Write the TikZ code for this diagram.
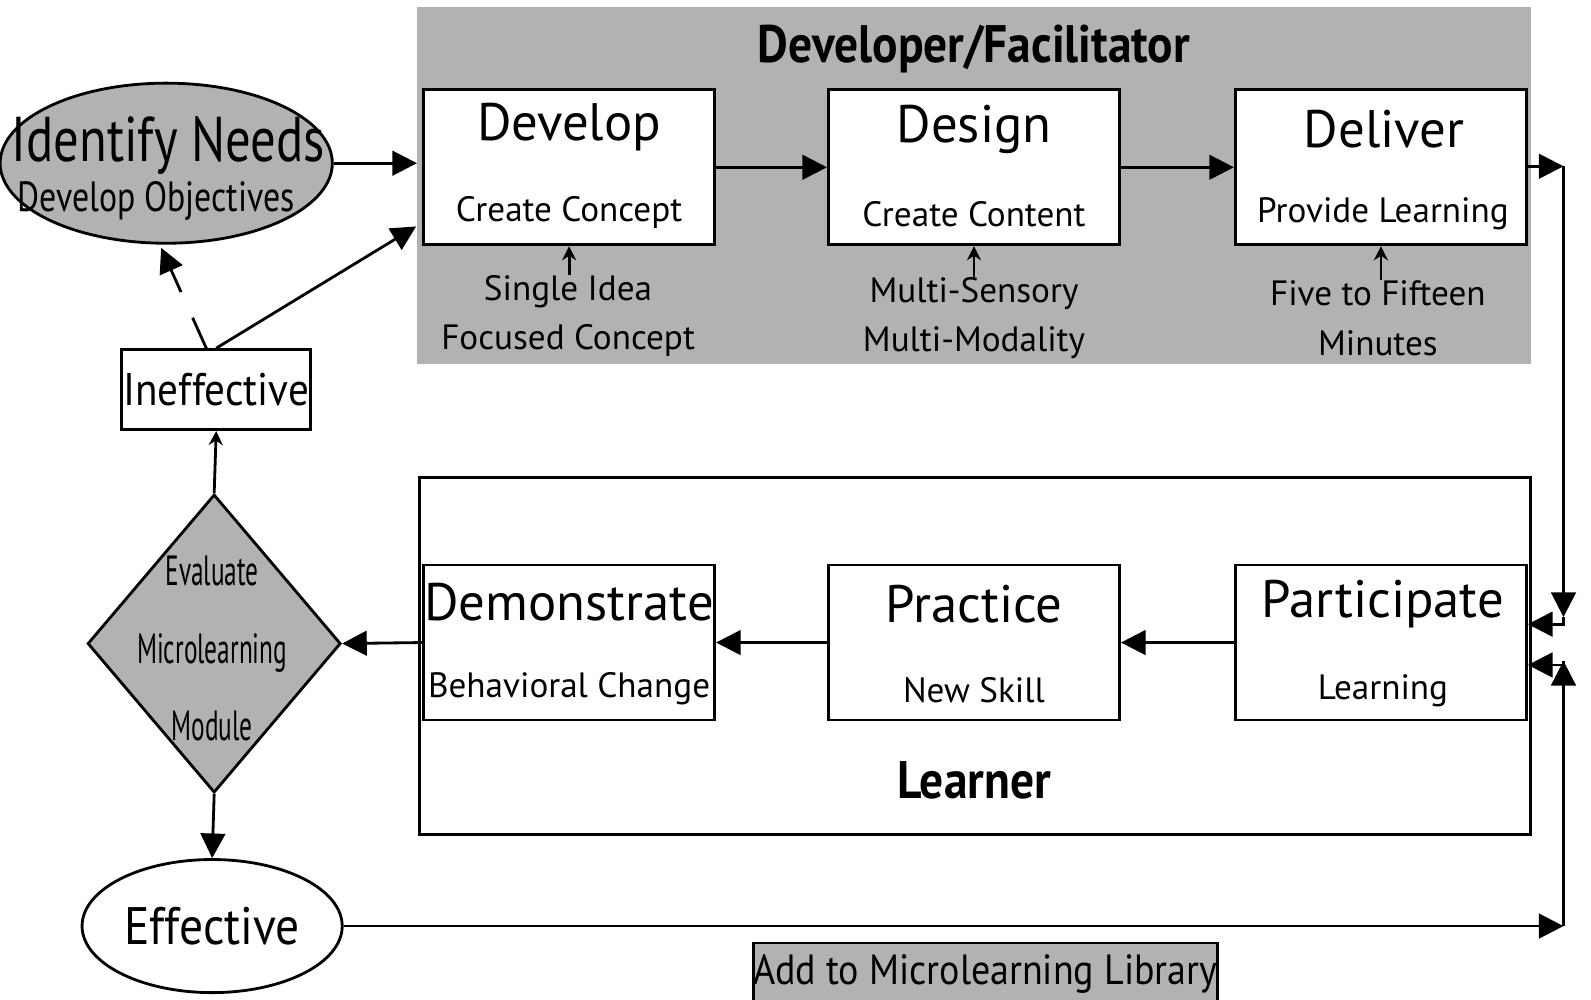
\documentclass[tikz,border=0pt]{standalone}
\usepackage{fontspec}
\setmainfont{PT Sans}
\usetikzlibrary{arrows.meta,shapes.geometric}
\begin{document}
\begin{tikzpicture}[x=0.0102cm,y=-0.0102cm,
  >={Triangle[length=7pt,width=7pt]},
  every node/.style={inner sep=0pt},
  stepbox/.style={draw,thick,fill=white,minimum width=2.91cm,minimum height=1.55cm},
  ttl/.style={font=\fontsize{15}{17}\selectfont},
  sub/.style={font=\fontsize{10}{12}\selectfont},
  note/.style={font=\fontsize{10}{14}\selectfont,align=center},
  arr/.style={->,thick},
  small/.style={-{Stealth[length=4pt,width=4pt]},thick}
]
\useasboundingbox (0,0) rectangle (1560,980);
% panels
\node[draw=gray!60,fill=gray!60,minimum width=11.12cm,minimum height=3.56cm] (dev) at (955,182) {};
\node[font=\bfseries\fontsize{15}{17}\selectfont] (devt) at (955,48) {\scalebox{0.9}[1]{Developer/Facilitator}};
\node[draw,thick,fill=white,minimum width=11.1cm,minimum height=3.57cm] (learn) at (956,643) {};
\node[font=\bfseries\fontsize{15}{17}\selectfont] (learnt) at (955,765) {\scalebox{0.9}[1]{Learner}};
% top steps
\node[stepbox] (s1) at (558,164) {};
\node[stepbox] (s2) at (955,164) {};
\node[stepbox] (s3) at (1354,164) {};
\node[ttl] at (558,125) {Develop};
\node[sub] at (558,208) {Create Concept};
\node[ttl] at (955,127) {Design};
\node[sub] at (955,210) {Create Content};
\node[ttl] at (1357,127) {Deliver};
\node[sub] at (1356,210) {Provide Learning};
\node[note] (n1) at (557,310) {Single Idea\\Focused Concept};
\node[note] (n2) at (955,312) {Multi-Sensory\\Multi-Modality};
\node[note] (n3) at (1351,312) {Five to Fifteen\\Minutes};
\draw[small] (n1.north -| s1) -- (s1.south);
\draw[small] (n2.north -| s2) -- (s2.south);
\draw[small] (n3.north -| s3) -- (s3.south);
% bottom steps
\node[stepbox] (b1) at (558,630) {};
\node[stepbox] (b2) at (955,630) {};
\node[stepbox] (b3) at (1354,630) {};
\node[ttl] at (558,590) {Demonstrate};
\node[sub] at (558,675) {Behavioral Change};
\node[ttl] at (955,592) {Practice};
\node[sub] at (955,677) {New Skill};
\node[ttl] at (1356,592) {Participate};
\node[sub] at (1356,677) {Learning};
% left side
\node[ellipse,draw,thick,fill=gray!60,minimum width=3.32cm,minimum height=1.6cm] (id) at (163,160) {};
\node[font=\fontsize{18}{20}\selectfont] at (165,143) {\scalebox{0.8}[1]{Identify Needs}};
\node[font=\fontsize{12}{14}\selectfont] at (153,197) {\scalebox{0.8}[1]{Develop Objectives}};
\node[draw,thick,fill=white,minimum width=1.89cm,minimum height=0.8cm,font=\fontsize{13}{15}\selectfont] (ineff) at (212,382) {\scalebox{0.9}[1]{Ineffective}};
\node[diamond,draw,thick,fill=gray!60,minimum width=2.53cm,minimum height=2.98cm,aspect=0.85] (eval) at (210,631) {};
\node[align=center,font=\fontsize{12}{22}\selectfont] at (208,636) {\scalebox{0.6}[1]{Evaluate}\\\scalebox{0.6}[1]{Microlearning}\\\scalebox{0.6}[1]{Module}};
\node[ellipse,draw,thick,fill=white,minimum width=2.6cm,minimum height=1.33cm,font=\fontsize{15}{17}\selectfont] (eff) at (208,908) {\scalebox{0.9}[1]{Effective}};
\node[draw,thick,fill=gray!60,minimum width=4.54cm,minimum height=0.62cm,font=\fontsize{12}{14}\selectfont] (lib) at (966,955) {\scalebox{0.9}[1]{Add to Microlearning Library}};
% connectors
\coordinate (r1) at (1533,163);
\coordinate (r2) at (1533,605);
\coordinate (r3) at (1533,648);
\coordinate (r4) at (1533,908);
\draw[arr] (id.east) -- (dev.west |- id.east);
\draw[arr] (s1.east) -- (s2.west);
\draw[arr] (s2.east) -- (s3.west);
\draw[arr] (s3.east |- r1) -- (r1);
\draw[arr] (r1) -- (r2);
\draw[arr] (r2) -- ++(0,7) -- (b3.east |- 0,612);
\draw[arr] (r4) -- (r3);
\draw[arr] (r3) -- ++(0,4) -- (b3.east |- 0,652);
\draw[arr] (eff.east) -- (r4);
\draw[arr] (b3.west) -- (b2.east);
\draw[arr] (b2.west) -- (b1.east);
\draw[arr] (b1.west) -- (eval.east);
\draw[small] (eval.north) -- (ineff.south);
\draw[arr] (eval.south) -- (eff.north);
\draw[arr] (ineff.north) -- (408,222);
\draw[arr,dashed,dash pattern=on 10pt off 8pt] (203,343) -- (158,243);
\end{tikzpicture}
\end{document}
